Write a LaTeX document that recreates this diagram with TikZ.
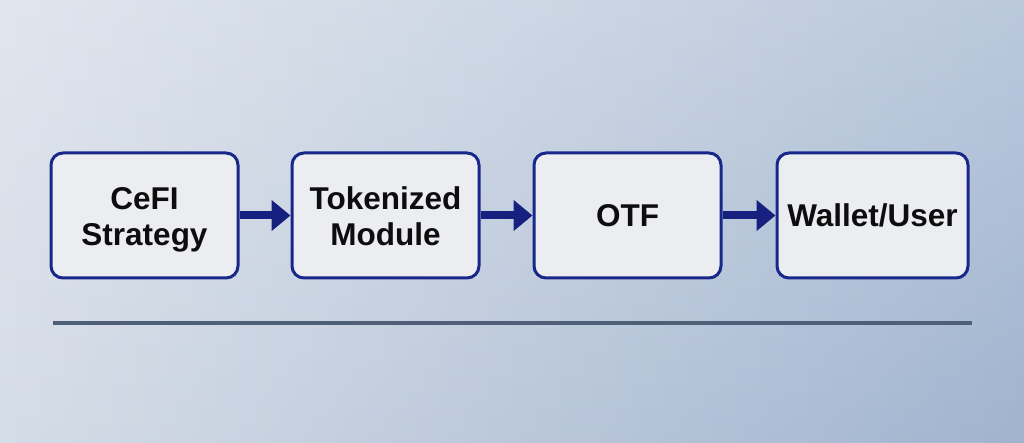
\documentclass[tikz,border=0pt]{standalone}
\usepackage{fontspec}
\setmainfont{Liberation Sans}
\usetikzlibrary{arrows.meta,fadings}
\definecolor{bgL}{HTML}{D6DDE7}
\definecolor{bgR}{HTML}{9EB2CE}
\definecolor{boxfill}{HTML}{ECEDF1}
\definecolor{boxline}{HTML}{18288A}
\definecolor{arrowc}{HTML}{16207F}
\definecolor{rulec}{HTML}{4F5F78}
\definecolor{txt}{HTML}{0D0D0D}
\newcommand{\twolines}[2]{\raisebox{-5pt}[\height][\depth]{\begin{tabular}{@{}c@{}}#1\\#2\end{tabular}}}
\tikzset{
  stepbox/.style={draw=boxline, line width=3pt, fill=boxfill, rounded corners=12pt,
    minimum height=125pt, align=center, text=txt,
    font=\fontsize{31.5}{36}\selectfont\bfseries},
  flow/.style={draw=arrowc, line width=8pt, -{Triangle[length=19pt,width=30pt]}}
}
\begin{document}
\begin{tikzpicture}[x=1pt,y=-1pt]
\useasboundingbox (0,0) rectangle (1024,443);
\shade[left color=bgL, right color=bgR] (-20,-20) rectangle (1044,463);
\fill[white, opacity=0.3, path fading=south] (-20,-20) rectangle (1044,463);
\node[stepbox, minimum width=187pt] (a) at (144.5,215.5) {\twolines{CeFI}{Strategy}};
\node[stepbox, minimum width=187pt] (b) at (385.5,215.5) {\twolines{Tokenized}{Module}};
\node[stepbox, minimum width=187pt] (c) at (627.5,215.5) {OTF};
\node[stepbox, minimum width=191pt] (d) at (872.5,215.5) {Wallet/User};
\draw[flow] (a.east) -- (b.west);
\draw[flow] (b.east) -- (c.west);
\draw[flow] (c.east) -- (d.west);
\coordinate (r1) at (53,323);
\coordinate (r2) at (972,323);
\draw[rulec, line width=4pt] (r1) -- (r2);
\end{tikzpicture}
\end{document}
